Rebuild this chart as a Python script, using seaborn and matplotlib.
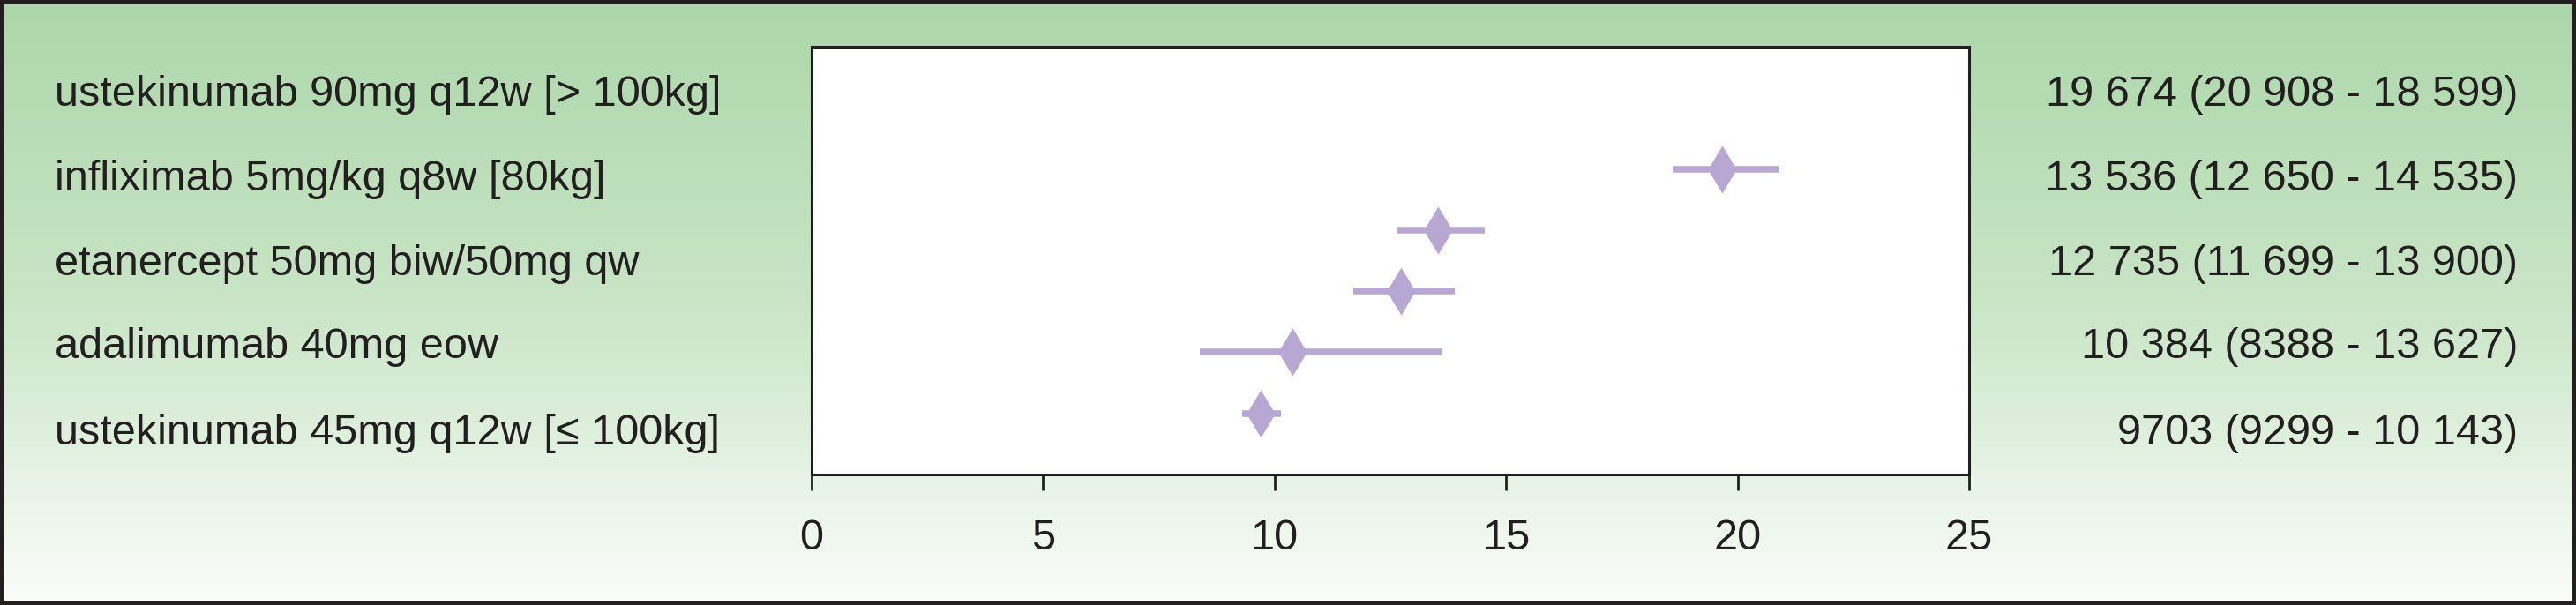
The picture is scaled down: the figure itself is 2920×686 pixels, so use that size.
import matplotlib
matplotlib.use("Agg")
import matplotlib.pyplot as plt
import matplotlib.colors as mcolors
import numpy as np
import pandas as pd
import seaborn as sns

# ========== DATA ==========
traitements = [
    "ustekinumab 90mg q12w [> 100kg]",
    "infliximab 5mg/kg q8w [80kg]",
    "etanercept 50mg biw/50mg qw",
    "adalimumab 40mg eow",
    "ustekinumab 45mg q12w [\u2264 100kg]",
]
cout = [19.674, 13.536, 12.735, 10.384, 9.703]
ic_bas = [18.599, 12.650, 11.699, 8.388, 9.299]
ic_haut = [20.908, 14.535, 13.900, 13.627, 10.143]
etiquettes_droite = [
    "19 674 (20 908 - 18 599)",
    "13 536 (12 650 - 14 535)",
    "12 735 (11 699 - 13 900)",
    "10 384 (8388 - 13 627)",
    "9703 (9299 - 10 143)",
]
graduations_x = [0, 5, 10, 15, 20, 25]

violet = "#b8a7d3"
noir = "#231f20"

sns.set_theme(style="white")
plt.rcParams["font.family"] = ["Liberation Sans", "DejaVu Sans"]

W, H = 2920, 686
fig = plt.figure(figsize=(W / 100, H / 100), dpi=100)

# ========== FOND DÉGRADÉ ==========
fond = fig.add_axes([0, 0, 1, 1], zorder=0)
cmap = mcolors.LinearSegmentedColormap.from_list("vert", ["#acd7aa", "#c9e5c6", "#fbfdfb"])
grad = np.linspace(0, 1, 256).reshape(-1, 1)
fond.imshow(grad, aspect="auto", cmap=cmap, extent=[0, 1, 0, 1], origin="upper")
fond.set_xlim(0, 1)
fond.set_ylim(0, 1)
fond.set_xticks([])
fond.set_yticks([])
for sp in fond.spines.values():
    sp.set_visible(True)
    sp.set_color(noir)
    sp.set_linewidth(7)

# ========== GRAPHIQUE ==========
x0, x1, y0, y1 = 920, 2232, 53, 538
ax = fig.add_axes([x0 / W, 1 - y1 / H, (x1 - x0) / W, (y1 - y0) / H], zorder=1)
ax.set_facecolor("white")

df = pd.DataFrame({
    "traitement": traitements,
    "cout": cout,
    "bas": ic_bas,
    "haut": ic_haut,
    "pos": np.arange(len(traitements), 0, -1),
})

ax.hlines(df["pos"], df["bas"], df["haut"], color=violet, linewidth=5.4, zorder=2)
sns.scatterplot(data=df, x="cout", y="pos", marker="d", s=760, color=violet,
                linewidth=0, ax=ax, zorder=3, legend=False)

ax.set_xlim(0, 25)
ax.set_ylim(0, 7)
ax.set_xticks(graduations_x)
ax.set_xticklabels([str(v) for v in graduations_x], fontsize=35, color=noir)
ax.set_yticks([])
ax.set_xlabel("")
ax.set_ylabel("")
ax.tick_params(axis="x", direction="out", length=13, width=2, color=noir, pad=23, bottom=True)
for sp in ax.spines.values():
    sp.set_visible(True)
    sp.set_color(noir)
    sp.set_linewidth(2.2)

# ========== ÉTIQUETTES ==========
lignes_y = [107, 203, 300, 394, 492]
for nom, droite, yy in zip(traitements, etiquettes_droite, lignes_y):
    fig.text(62 / W, 1 - yy / H, nom, fontsize=35, color=noir, ha="left", va="center")
    fig.text(2854 / W, 1 - yy / H, droite, fontsize=35, color=noir, ha="right", va="center")

fig.savefig("out.png", dpi=100)
